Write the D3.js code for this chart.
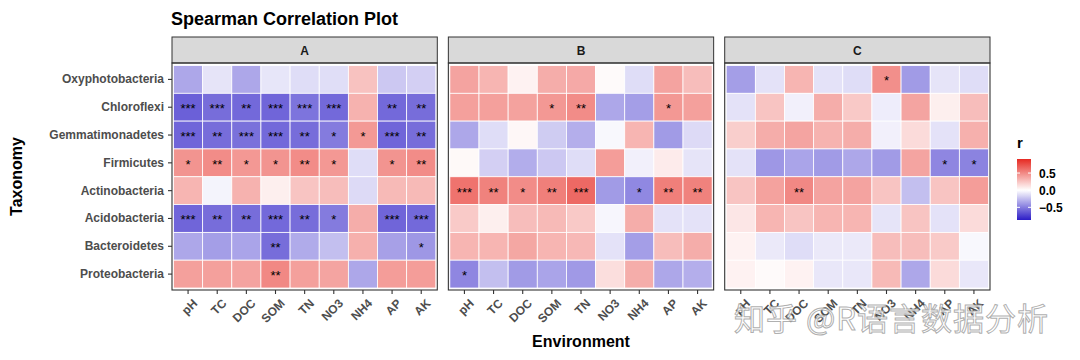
<!DOCTYPE html>
<html><head><meta charset="utf-8">
<script src="https://cdn.jsdelivr.net/npm/d3@7"></script>
<style>
html,body{margin:0;padding:0;background:#fff;}
svg{display:block;font-family:"Liberation Sans",Arial,Helvetica,sans-serif;}
</style></head>
<body><svg id="chart" width="1080" height="360"></svg>
<script>
const taxa = ["Oxyphotobacteria","Chloroflexi","Gemmatimonadetes","Firmicutes","Actinobacteria","Acidobacteria","Bacteroidetes","Proteobacteria"];
const envs = ["pH","TC","DOC","SOM","TN","NO3","NH4","AP","AK"];
const groups = ["A","B","C"];

// correlation values r (rows = taxa, cols = envs)
const rA = [
  [-0.48,-0.15,-0.48,-0.14,-0.19,-0.18, 0.37,-0.30,-0.26],
  [-0.87,-0.80,-0.82,-0.84,-0.76,-0.82, 0.47,-0.82,-0.80],
  [-0.84,-0.80,-0.78,-0.82,-0.80,-0.72, 0.62,-0.84,-0.80],
  [ 0.65, 0.70, 0.63, 0.65, 0.70, 0.63,-0.19, 0.65, 0.70],
  [ 0.45,-0.06, 0.47, 0.10, 0.36, 0.40,-0.20, 0.42, 0.42],
  [-0.84,-0.80,-0.80,-0.82,-0.80,-0.72, 0.50,-0.84,-0.82],
  [-0.48,-0.53,-0.50,-0.80,-0.46,-0.35, 0.48,-0.52,-0.57],
  [ 0.58, 0.58, 0.56, 0.72, 0.58, 0.55,-0.48, 0.60, 0.60]
];
const rB = [
  [ 0.56, 0.45, 0.08, 0.50, 0.52, 0.03,-0.19, 0.56, 0.40],
  [ 0.58, 0.58, 0.57, 0.63, 0.70,-0.48,-0.53, 0.63, 0.58],
  [-0.48,-0.19, 0.05,-0.28,-0.44,-0.04, 0.45,-0.55,-0.20],
  [ 0.04,-0.26,-0.45,-0.30,-0.19, 0.60,-0.08, 0.12,-0.15],
  [ 0.85, 0.76, 0.70, 0.78, 0.91,-0.55,-0.65, 0.78, 0.76],
  [ 0.32, 0.10, 0.40, 0.42, 0.33,-0.05, 0.50,-0.16,-0.16],
  [ 0.45, 0.45, 0.54, 0.45, 0.43,-0.16,-0.53, 0.40, 0.50],
  [-0.66,-0.35,-0.55,-0.50,-0.56, 0.20, 0.50,-0.48,-0.44]
];
const rC = [
  [-0.53,-0.16, 0.45,-0.16,-0.19, 0.68,-0.55,-0.15,-0.19],
  [-0.16, 0.36,-0.08, 0.50, 0.33,-0.10, 0.55, 0.10, 0.40],
  [ 0.30, 0.50, 0.55, 0.46, 0.50,-0.08, 0.22,-0.16, 0.48],
  [-0.16,-0.57,-0.50,-0.55,-0.48,-0.55, 0.55,-0.66,-0.68],
  [ 0.36, 0.57, 0.72, 0.56, 0.56, 0.36,-0.35, 0.36, 0.60],
  [ 0.15, 0.45, 0.36, 0.45, 0.45,-0.15, 0.36,-0.16, 0.22],
  [ 0.08,-0.12,-0.19,-0.12,-0.12, 0.40, 0.40, 0.32,-0.04],
  [ 0.08, 0.03, 0.08,-0.13,-0.13, 0.42,-0.48, 0.22,-0.13]
];
// significance labels
const sA = [
  ["","","","","","","","",""],
  ["***","***","**","***","***","***","","**","**"],
  ["***","**","***","***","**","*","*","***","**"],
  ["*","**","*","*","**","*","","*","**"],
  ["","","","","","","","",""],
  ["***","**","**","***","**","*","","***","***"],
  ["","","","**","","","","","*"],
  ["","","","**","","","","",""]
];
const sB = [
  ["","","","","","","","",""],
  ["","","","*","**","","","*",""],
  ["","","","","","","","",""],
  ["","","","","","","","",""],
  ["***","**","*","**","***","","*","**","**"],
  ["","","","","","","","",""],
  ["","","","","","","","",""],
  ["*","","","","","","","",""]
];
const sC = [
  ["","","","","","*","","",""],
  ["","","","","","","","",""],
  ["","","","","","","","",""],
  ["","","","","","","","*","*"],
  ["","","**","","","","","",""],
  ["","","","","","","","",""],
  ["","","","","","","","",""],
  ["","","","","","","","",""]
];
const legendTicks = [0.5, 0.0, -0.5];

const rData = {A: rA, B: rB, C: rC};
const sData = {A: sA, B: sB, C: sC};
const cells = [];
groups.forEach(g => taxa.forEach((t, i) => envs.forEach((e, j) => {
  cells.push({group: g, taxon: t, env: e, r: rData[g][i][j], sig: sData[g][i][j]});
})));

const svg = d3.select("#chart");
const lowCol = "#2212C4", highCol = "#E62A22";
const ext = d3.extent(cells, d => d.r);
const maxAbs = d3.max(ext, Math.abs);
const toBlue = d3.interpolateRgb("#ffffff", lowCol);
const toRed = d3.interpolateRgb("#ffffff", highCol);
const fillOf = r => r < 0 ? toBlue(-r / maxAbs) : toRed(r / maxAbs);

const panelLeft = d3.scaleBand().domain(groups).range([172, 990]).paddingInner(0.04).paddingOuter(0);
const pTop = 63, pBot = 290, stripTop = 37;
const pw = panelLeft.bandwidth();
const y = d3.scaleBand().domain(taxa).range([pTop + 2.5, pBot - 2]);

// title
svg.append("text").attr("x", 171).attr("y", 25).attr("font-size", 18).attr("font-weight", "bold")
  .attr("fill", "#000").text("Spearman Correlation Plot");

groups.forEach(g => {
  const x0 = panelLeft(g);
  const x = d3.scaleBand().domain(envs).range([x0 + 1.5, x0 + pw - 1.5]);
  const gp = svg.append("g");
  // strip
  gp.append("rect").attr("x", x0).attr("y", stripTop).attr("width", pw).attr("height", pTop - stripTop)
    .attr("fill", "#D9D9D9").attr("stroke", "#333").attr("stroke-width", 1);
  gp.append("text").attr("x", x0 + pw / 2).attr("y", (stripTop + pTop) / 2 + 4.5).attr("text-anchor", "middle")
    .attr("font-size", 12).attr("font-weight", "bold").attr("fill", "#1A1A1A").text(g);
  // tiles
  const cs = cells.filter(d => d.group === g);
  gp.selectAll("rect.tile").data(cs).join("rect").attr("class", "tile")
    .attr("x", d => x(d.env)).attr("y", d => y(d.taxon))
    .attr("width", x.bandwidth()).attr("height", y.bandwidth())
    .attr("fill", d => fillOf(d.r)).attr("fill-opacity", 0.7)
    .attr("stroke", "#fff").attr("stroke-width", 0.8);
  gp.selectAll("text.sig").data(cs.filter(d => d.sig)).join("text").attr("class", "sig")
    .attr("x", d => x(d.env) + x.bandwidth() / 2).attr("y", d => y(d.taxon) + y.bandwidth() / 2 + 6)
    .attr("text-anchor", "middle").attr("font-size", 13).attr("fill", "#000").text(d => d.sig);
  // border
  gp.append("rect").attr("x", x0).attr("y", pTop).attr("width", pw).attr("height", pBot - pTop)
    .attr("fill", "none").attr("stroke", "#333").attr("stroke-width", 1.1);
  // x axis
  const ax = gp.append("g").attr("transform", `translate(0,${pBot})`)
    .call(d3.axisBottom(x).tickSize(4).tickPadding(0));
  ax.select(".domain").remove();
  ax.selectAll(".tick line").attr("stroke", "#333").attr("stroke-width", 1.1);
  ax.selectAll(".tick text").attr("font-size", 12).attr("font-weight", "bold").attr("fill", "#4D4D4D")
    .attr("font-family", "Liberation Sans, Arial, sans-serif")
    .attr("text-anchor", "end").attr("y", 0).attr("dy", "0.72em")
    .attr("transform", "translate(4,8) rotate(-45)");
  if (g === "A") {
    const ay = gp.append("g").attr("transform", `translate(${x0},0)`)
      .call(d3.axisLeft(y).tickSize(4).tickPadding(4));
    ay.select(".domain").remove();
    ay.selectAll(".tick line").attr("stroke", "#333").attr("stroke-width", 1.1);
    ay.selectAll(".tick text").attr("font-size", 12).attr("font-weight", "bold").attr("fill", "#4D4D4D")
      .attr("font-family", "Liberation Sans, Arial, sans-serif");
  }
});

// axis titles
svg.append("text").attr("x", (172 + 990) / 2).attr("y", 347).attr("text-anchor", "middle")
  .attr("font-size", 16).attr("font-weight", "bold").attr("fill", "#000").text("Environment");
svg.append("text").attr("transform", `translate(22,${(pTop + pBot) / 2}) rotate(-90)`).attr("text-anchor", "middle")
  .attr("font-size", 16).attr("font-weight", "bold").attr("fill", "#000").text("Taxonomy");

// legend
const lgX = 1017, lgTop = 159, lgBot = 220, lgW = 14;
const ly = d3.scaleLinear().domain(ext).range([lgBot, lgTop]);
const defs = svg.append("defs");
const grad = defs.append("linearGradient").attr("id", "lg").attr("x1", 0).attr("y1", 1).attr("x2", 0).attr("y2", 0);
d3.range(0, 1.0001, 0.02).forEach(t => {
  const v = ext[0] + t * (ext[1] - ext[0]);
  grad.append("stop").attr("offset", t).attr("stop-color", fillOf(v));
});
svg.append("text").attr("x", lgX).attr("y", 148).attr("font-size", 15).attr("font-weight", "bold").text("r");
svg.append("rect").attr("x", lgX).attr("y", lgTop).attr("width", lgW).attr("height", lgBot - lgTop).attr("fill", "url(#lg)");
legendTicks.forEach(v => {
  svg.append("line").attr("x1", lgX).attr("x2", lgX + 3).attr("y1", ly(v)).attr("y2", ly(v)).attr("stroke", "#fff");
  svg.append("line").attr("x1", lgX + lgW - 3).attr("x2", lgX + lgW).attr("y1", ly(v)).attr("y2", ly(v)).attr("stroke", "#fff");
  svg.append("text").attr("x", lgX + lgW + 8).attr("y", ly(v) + 4.5).attr("font-size", 12).attr("font-weight", "bold")
    .attr("fill", "#000").text(d3.format(".1f")(v));
});

// watermark
svg.append("text").attr("x", 734).attr("y", 330).attr("font-size", 31)
  .attr("font-family", "Noto Sans CJK SC, sans-serif")
  .attr("fill", "#ffffff").attr("fill-opacity", 0.75).attr("stroke", "#9a9a9a").attr("stroke-width", 1)
  .attr("stroke-opacity", 0.8).attr("letter-spacing", 1).text("知乎 @R语言数据分析");
</script></body></html>
